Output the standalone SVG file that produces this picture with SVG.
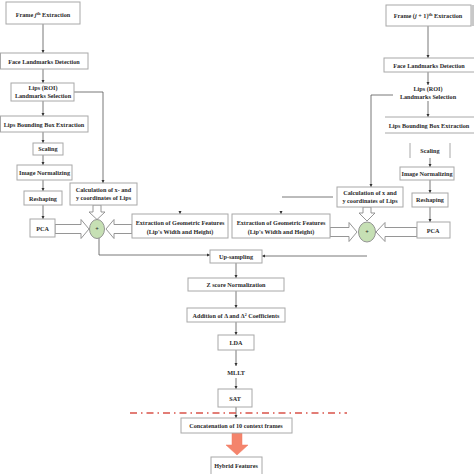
<svg xmlns="http://www.w3.org/2000/svg" width="474" height="474" viewBox="0 0 474 474">
<defs>
<style>
.b{fill:#fff;stroke:#a8a8a8;stroke-width:1}
.t{font-family:"Liberation Serif","Times New Roman",serif;font-weight:bold;font-size:6.2px;fill:#2a2a2a;text-anchor:middle}
.c{fill:none;stroke:#555;stroke-width:0.8}
.h{fill:#fff;stroke:#8a8a8a;stroke-width:0.9}
.g{fill:#c6e0b4;stroke:#8a8a8a;stroke-width:0.9}
</style>
<marker id="a" viewBox="0 0 6 6" refX="6" refY="3" markerWidth="4" markerHeight="4" orient="auto">
<path d="M0,0L6,3L0,6z" fill="#333"/>
</marker>
</defs>
<rect width="474" height="474" fill="#fff"/>

<g id="connectors">
<path class="c" d="M43,24V53" marker-end="url(#a)"/>
<path class="c" d="M43,69V83" marker-end="url(#a)"/>
<path class="c" d="M43,101V116" marker-end="url(#a)"/>
<path class="c" d="M43,132V143" marker-end="url(#a)"/>
<path class="c" d="M43,155V165" marker-end="url(#a)"/>
<path class="c" d="M43,180V191" marker-end="url(#a)"/>
<path class="c" d="M43,205V219" marker-end="url(#a)"/>
<path class="c" d="M74,92H103V183" marker-end="url(#a)"/>
<path class="c" d="M428,26V58" marker-end="url(#a)"/>
<path class="c" d="M428,72V85" marker-end="url(#a)"/>
<path class="c" d="M428,101V117" marker-end="url(#a)"/>
<path class="c" d="M430,158V167" marker-end="url(#a)"/>
<path class="c" d="M430,180V193" marker-end="url(#a)"/>
<path class="c" d="M430,207V222" marker-end="url(#a)"/>
<path class="c" d="M393,95H371V187" marker-end="url(#a)"/>
<path class="c" d="M282,197H333"/>
<path class="c" d="M99,238V255H210" marker-end="url(#a)"/>
<path class="c" d="M367,256H262" marker-end="url(#a)"/>
<path class="c" d="M180,211V214" marker-end="url(#a)"/>
<path class="c" d="M281,211V214" marker-end="url(#a)"/>
<path class="c" d="M236,263V278" marker-end="url(#a)"/>
<path class="c" d="M236,291V308" marker-end="url(#a)"/>
<path class="c" d="M236,322V335" marker-end="url(#a)"/>
<path class="c" d="M236,350V366" marker-end="url(#a)"/>
<path class="c" d="M236,378V389" marker-end="url(#a)"/>
<path class="c" d="M236,407V418" marker-end="url(#a)"/>
<path class="h" d="M55,224.5H81V219.5L89,229L81,238.5V233.5H55Z"/>
<path class="h" d="M132,224.5H114V219.5L106,229L114,238.5V233.5H132Z"/>
<path class="h" d="M93,205V212H89L97,219.5L105,212H101V205Z"/>
<path class="h" d="M330,227.5H349V222.5L357,232L349,241.5V236.5H330Z"/>
<path class="h" d="M417,227.5H385V222.5L376,232L385,241.5V236.5H417Z"/>
<path class="h" d="M363,207V213H359L367,221L375,213H371V207Z"/>
<line x1="130" y1="413" x2="347" y2="413" stroke="#d9534a" stroke-width="1.4" stroke-dasharray="7 4 1.5 4"/>
<path d="M232,433H242V445H248L237,455L226,445H232Z" fill="#f4846c" stroke="#f07a60" stroke-width="0.5"/>
</g>

<g id="frameL"><rect class="b" x="6" y="2" width="74" height="22"/><text class="t" x="43" y="17">Frame <tspan font-style="italic">j</tspan><tspan dy="-2" font-size="4.5">th</tspan><tspan dy="2"> Extraction</tspan></text></g>
<g id="faceL"><rect class="b" x="0.5" y="53" width="87.5" height="16"/><text class="t" x="44" y="63.5">Face Landmarks Detection</text></g>
<g id="roiL"><rect class="b" x="11" y="83" width="63" height="18"/><text class="t" x="43" y="90">Lips (ROI)</text><text class="t" x="43" y="97.5">Landmarks Selection</text></g>
<g id="bboxL"><rect class="b" x="0.5" y="116" width="87.5" height="16"/><text class="t" x="44" y="126.5">Lips Bounding Box Extraction</text></g>
<g id="scaleL"><rect class="b" x="33" y="143" width="30" height="12"/><text class="t" x="48" y="151">Scaling</text></g>
<g id="normL"><rect class="b" x="17" y="165" width="55" height="15"/><text class="t" x="44.5" y="175">Image Normalizing</text></g>
<g id="reshL"><rect class="b" x="24" y="191" width="38" height="14"/><text class="t" x="43" y="200.5">Reshaping</text></g>
<g id="pcaL"><rect class="b" x="30" y="219" width="25" height="18"/><text class="t" x="42.5" y="230.5">PCA</text></g>
<g id="calcL"><rect class="b" x="70" y="183" width="67" height="22"/><text class="t" x="103.5" y="191.5">Calculation of x- and</text><text class="t" x="103.5" y="200">y coordinates of Lips</text></g>
<g id="sumL"><ellipse class="g" cx="97" cy="229" rx="7.5" ry="9.5"/><text class="t" x="97" y="231" font-size="5">+</text></g>
<g id="extrL"><rect class="b" x="132" y="214" width="96" height="24"/><text class="t" x="180" y="225">Extraction of Geometric Features</text><text class="t" x="180" y="234">(Lip's Width  and Height)</text></g>

<g id="frameR"><rect class="b" x="386" y="5" width="85" height="21"/><rect x="471" y="5" width="3" height="21" fill="#c8c8c8"/><text class="t" x="428" y="18">Frame (<tspan font-style="italic">j</tspan> + 1)<tspan dy="-2" font-size="4.5">th</tspan><tspan dy="2"> Extraction</tspan></text></g>
<g id="faceR"><rect class="b" x="384" y="58" width="91" height="14"/><text class="t" x="429" y="67.5">Face Landmarks Detection</text></g>
<g id="roiR"><text class="t" x="428" y="91">Lips (ROI)</text><text class="t" x="428" y="99">Landmarks Selection</text></g>
<g id="bboxR"><path d="M385,117H474M385,133H474" stroke="#a8a8a8" stroke-width="1" fill="none"/><text class="t" x="429" y="127.5">Lips Bounding Box Extraction</text></g>
<g id="scaleR"><path d="M410,143V158M450,143V158" stroke="#a8a8a8" stroke-width="1" fill="none"/><text class="t" x="430" y="153">Scaling</text></g>
<g id="normR"><rect class="b" x="400" y="167" width="54" height="13"/><text class="t" x="427" y="176">Image Normalizing</text></g>
<g id="reshR"><rect class="b" x="412" y="193" width="36" height="14"/><text class="t" x="430" y="202">Reshaping</text></g>
<g id="pcaR"><rect class="b" x="417" y="222" width="33" height="16"/><text class="t" x="433" y="232.5">PCA</text></g>
<g id="calcR"><rect class="b" x="337" y="187" width="66" height="20"/><text class="t" x="370" y="194.5">Calculation of x  and</text><text class="t" x="370" y="203">y coordinates of Lips</text></g>
<g id="sumR"><ellipse class="g" cx="367" cy="232" rx="8.5" ry="10"/><text class="t" x="367" y="234" font-size="5">+</text></g>
<g id="extrR"><rect class="b" x="232" y="214" width="98" height="24"/><text class="t" x="281" y="225">Extraction of Geometric Features</text><text class="t" x="281" y="234">(Lip's Width  and Height)</text></g>

<g id="upsample"><rect class="b" x="210" y="250" width="52" height="13"/><text class="t" x="236" y="259">Up-sampling</text></g>
<g id="zscore"><rect class="b" x="188" y="278" width="96" height="13"/><text class="t" x="236" y="287">Z score Normalization</text></g>
<g id="addition"><rect class="b" x="187" y="308" width="98" height="14"/><text class="t" x="236" y="317.5" font-size="5.6">Addition of Δ and Δ<tspan dy="-2" font-size="4">2</tspan><tspan dy="2"> Coefficients</tspan></text></g>
<g id="lda"><rect class="b" x="218" y="335" width="36" height="15"/><text class="t" x="236" y="345">LDA</text></g>
<g id="mllt"><text class="t" x="236" y="375">MLLT</text></g>
<g id="sat"><rect class="b" x="218" y="389" width="34" height="18"/><text class="t" x="235" y="401">SAT</text></g>
<g id="concat"><rect class="b" x="181" y="418" width="111" height="15"/><text class="t" x="236" y="428">Concatenation of 10 context frames</text></g>
<g id="hybrid"><rect class="b" x="211" y="457" width="51" height="18"/><text class="t" x="236" y="467.5" font-size="5.6">Hybrid Features</text></g>
</svg>
